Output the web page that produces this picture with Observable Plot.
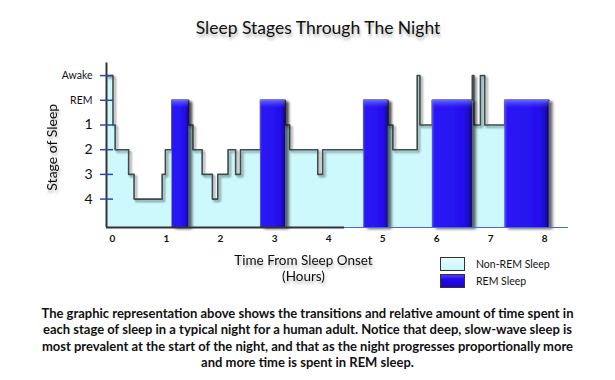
<!DOCTYPE html>
<html><head><meta charset="utf-8">
<script src="https://cdn.jsdelivr.net/npm/d3@7"></script>
<script src="https://cdn.jsdelivr.net/npm/@observablehq/plot@0.6"></script>
<style>
html,body{margin:0;padding:0;background:#fff;}
#wrap{position:relative;width:615px;height:380px;overflow:hidden;font-family:Lato,"Open Sans",sans-serif;color:#111;}
#title{position:absolute;left:18px;width:600px;top:17px;text-align:center;font-size:17.5px;text-shadow:1px 3px 3px rgba(0,0,0,0.3);}
#chart{position:absolute;left:0;top:50px;}
#legend{position:absolute;left:440px;top:257px;font-size:10.5px;}
.lg{position:relative;height:17px;}
.sw{position:absolute;left:0;width:25px;height:14px;border:1px solid #333;box-sizing:border-box;}
.lt{position:absolute;left:36px;top:0px;line-height:15px;white-space:nowrap;}
#caption{position:absolute;left:0;width:615px;top:305px;text-align:center;font-weight:bold;font-size:13px;line-height:16.3px;}
</style>
</head><body>
<div id="wrap">
<div id="title">Sleep Stages Through The Night</div>
<div id="chart"></div>
<div id="legend">
 <div class="lg"><div class="sw" style="background:linear-gradient(#e6fdff,#c6f6fa);"></div><div class="lt">Non-REM Sleep</div></div>
 <div class="lg"><div class="sw" style="background:linear-gradient(#4a3cff,#2208f0 40%,#1a06c0);"></div><div class="lt">REM Sleep</div></div>
</div>
<div id="caption">The graphic representation above shows the transitions and relative amount of time spent in<br>each stage of sleep in a typical night for a human adult. Notice that deep, slow-wave sleep is<br>most prevalent at the start of the night, and that as the night progresses proportionally more<br>and more time is spent in REM sleep.</div>
</div>
<script>
const stageLabels = ["Awake","REM","1","2","3","4"];
const xTicks = [0,1,2,3,4,5,6,7,8];
const hypTimes  = [-0.11,0.01,0.05,0.30,0.40,0.92,0.98,1.10,1.41,1.49,1.66,1.85,1.95,2.14,2.28,2.37,2.74,3.20,3.28,3.80,3.89,4.65,5.10,5.19,5.64,5.69,5.92,6.66,6.69,6.81,6.89,7.26,8.08];
const hypStages = ["Awake","1","2","3","4","3","2","REM","1","2","3","4","3","2","3","2","REM","1","2","3","2","REM","1","2","Awake","1","REM","Awake","1","Awake","1","REM","REM"];
const xDomain = [-0.11, 8.44];
const yDomain = [6.15, -0.51];
const axisColorSplit = 4.3;

const pts = hypTimes.map((t,i)=>({t, s: stageLabels.indexOf(hypStages[i])}));
const remIdx = stageLabels.indexOf("REM");
const rem = [];
for (let i=0;i<pts.length-1;i++) if (pts[i].s===remIdx) rem.push({a: pts[i].t, b: pts[i+1].t});
const yIdx = stageLabels.map((_,i)=>i);

const plot = Plot.plot({
  width: 615, height: 240,
  marginLeft: 106, marginRight: 47, marginTop: 12.5, marginBottom: 63,
  style: {fontFamily: "Lato, 'Open Sans', sans-serif", color:"#111", background:"transparent", overflow:"visible"},
  x: {domain: xDomain},
  y: {domain: yDomain},
  marks: [
    Plot.areaY(pts, {x:"t", y1: yDomain[0], y2:"s", curve:"step-after", fill:"#cdf9fc"}),
    Plot.line(pts, {x:"t", y:"s", curve:"step-after", stroke:"#3f4c4c", strokeWidth:1.6}),
    Plot.rect(rem, {x1:"a", x2:"b", y1: yDomain[0], y2: remIdx, fill:"url(#remGrad)"}),
    Plot.rect(rem, {x1:"a", x2:"b", y1: yDomain[0], y2: remIdx, fill:"url(#remTop)"}),
    Plot.ruleX([xDomain[0]], {y1: yDomain[0], y2: yDomain[1], stroke:"#333", strokeWidth:2}),
    Plot.ruleY([yDomain[0]], {x1: xDomain[0], x2: axisColorSplit, stroke:"#333", strokeWidth:2}),
    Plot.ruleY([yDomain[0]], {x1: axisColorSplit, x2: xDomain[1], stroke:"#4a6ad8", strokeWidth:1.2}),
    Plot.axisY(yIdx, {tickSize: 13, dx: 7, tickFormat: () => "", stroke:"#3345a8", strokeWidth:1.5, label:null}),
    Plot.axisY([0,1], {tickSize:0, tickPadding:14, tickFormat: i=>stageLabels[i], fontSize:10.5, label:null}),
    Plot.axisY([2,3,4,5], {tickSize:0, tickPadding:14, tickFormat: i=>stageLabels[i], fontSize:14, label:null}),
    Plot.axisX(xTicks, {tickSize:0, tickPadding:7, fontSize:10, fontWeight:"bold", label:null}),
    Plot.text(["Stage of Sleep"], {frameAnchor:"left", textAnchor:"middle", rotate:-90, dx:-54, dy:2, fontSize:14}),
    Plot.text(["Time From Sleep Onset\n(Hours)"], {frameAnchor:"bottom", lineAnchor:"top", dx:-34, dy:26, fontSize:13.5, lineHeight:1.2})
  ]
});
const svg = d3.select(plot);
const defs = svg.insert("defs", ":first-child");
const g1 = defs.append("linearGradient").attr("id","remGrad").attr("x1",0).attr("x2",1).attr("y1",0).attr("y2",0);
[[0,"#5656ff"],[0.07,"#2c16f6"],[0.8,"#2410ec"],[0.93,"#1a0ab8"],[1,"#0c0460"]].forEach(([o,c])=>g1.append("stop").attr("offset",o).attr("stop-color",c));
const g2 = defs.append("linearGradient").attr("id","remTop").attr("x1",0).attr("x2",0).attr("y1",0).attr("y2",1);
[[0,"#8080ff",0.8],[0.04,"#6060ff",0.3],[0.07,"#2c16f6",0],[1,"#2c16f6",0]].forEach(([o,c,a])=>g2.append("stop").attr("offset",o).attr("stop-color",c).attr("stop-opacity",a));
function shadow(id, dx, dy, sd, op){
  const f = defs.append("filter").attr("id",id).attr("x","-20%").attr("y","-20%").attr("width","160%").attr("height","160%");
  f.append("feDropShadow").attr("dx",dx).attr("dy",dy).attr("stdDeviation",sd).attr("flood-color","#000").attr("flood-opacity",op);
}
shadow("shBar", 4, 2, 1.5, 0.6);
shadow("shLine", 2, 2, 0.8, 0.45);
shadow("shText", 1, 3, 1.5, 0.3);
const rects = svg.selectAll('g[aria-label="rect"]').nodes();
if (rects[0]) d3.select(rects[0]).attr("filter","url(#shBar)");
svg.selectAll('g[aria-label="line"]').attr("filter","url(#shLine)");
svg.selectAll('g[aria-label="text"]').attr("filter","url(#shText)");
document.getElementById("chart").appendChild(plot);
</script>
</body></html>
